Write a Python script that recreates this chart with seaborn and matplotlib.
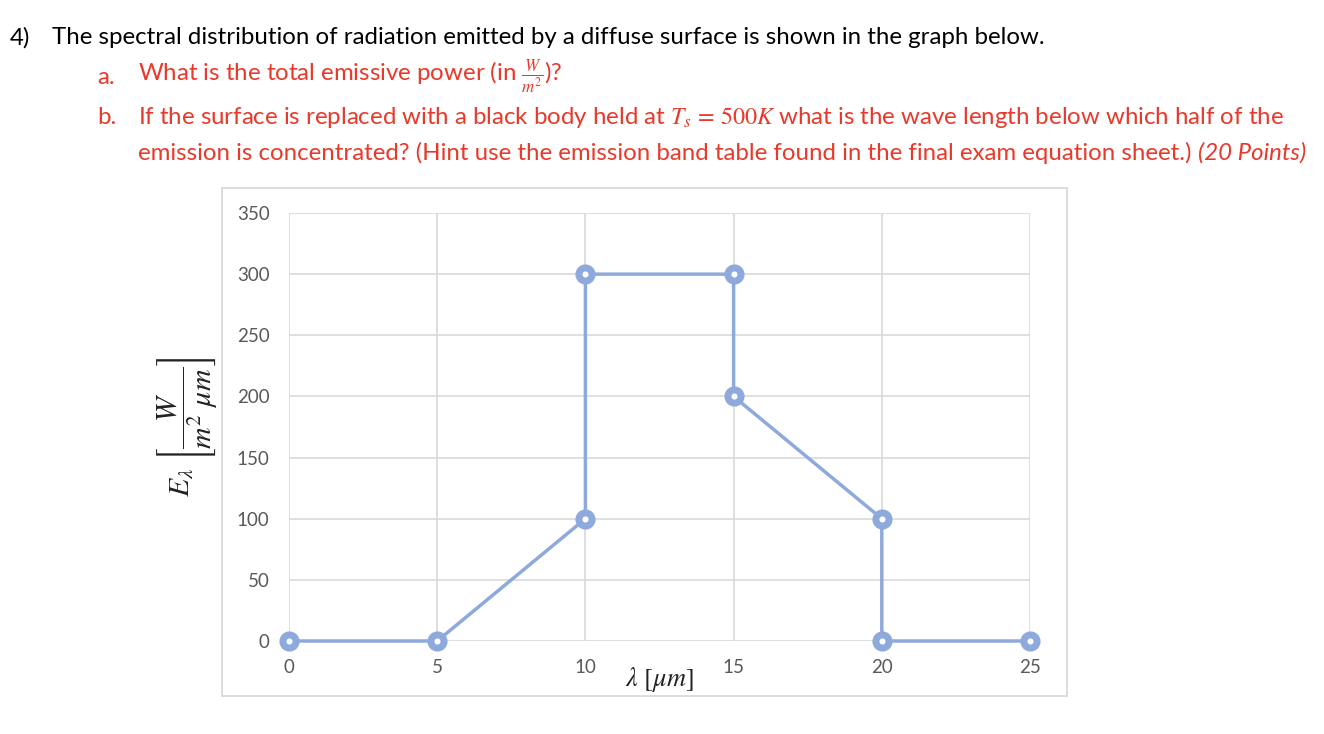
import matplotlib
matplotlib.use("Agg")
import matplotlib.pyplot as plt
import seaborn as sns
from matplotlib.patches import Rectangle

# spectral distribution
wavelength = [0, 5, 10, 10, 15, 15, 20, 20, 25]
emission = [0, 0, 100, 300, 300, 200, 100, 0, 0]
x_ticks = [0, 5, 10, 15, 20, 25]
y_ticks = [0, 50, 100, 150, 200, 250, 300, 350]

sns.set_theme(style="white")
plt.rcParams['font.family'] = ['Lato', 'DejaVu Sans']
plt.rcParams['mathtext.fontset'] = 'stix'

line_color = '#8EA9DB'
red = '#E8392B'
grid_color = '#D9D9D9'
tick_color = '#595959'

fig = plt.figure(figsize=(13.24, 7.34), dpi=100)
W, H = 1324, 734

def fx(px):
    return px / W

def fy(py):
    return 1 - py / H

# chart frame
fig.patches.append(Rectangle((fx(222), fy(696)), fx(1067) - fx(222), fy(188) - fy(696),
                             transform=fig.transFigure, fill=False,
                             edgecolor=grid_color, linewidth=1.3))

ax = fig.add_axes([fx(289), fy(641), fx(1030) - fx(289), fy(213) - fy(641)])
sns.lineplot(x=wavelength, y=emission, sort=False, estimator=None, ax=ax,
             color=line_color, linewidth=2.5, marker='o', markersize=9.5,
             markerfacecolor='white', markeredgecolor=line_color,
             markeredgewidth=5, clip_on=False, zorder=5)
ax.set_xlim(0, 25)
ax.set_ylim(0, 350)
ax.set_xticks(x_ticks)
ax.set_yticks(y_ticks)
ax.grid(True, color=grid_color, linewidth=1.2)
for s in ax.spines.values():
    s.set_visible(False)
ax.tick_params(axis='both', length=0, labelsize=13.5, colors=tick_color)
ax.tick_params(axis='x', pad=13)
ax.tick_params(axis='y', pad=14)
ax.set_xlabel(r'$\lambda\ [\mu m]$', fontsize=19, color='#222222', labelpad=-8)
ax.set_ylabel(r'$E_\lambda\ \left[\dfrac{W}{m^2\ \mu m}\right]$', fontsize=21.5,
              color='#222222', labelpad=12)

# question text
fs = 17.3
fig.text(fx(10), fy(38), '4)', fontsize=fs, va='center', color='black')
fig.text(fx(52), fy(38),
         'The spectral distribution of radiation emitted by a diffuse surface is shown in the graph below.',
         fontsize=fs, va='center', color='black')
fig.text(fx(97), fy(77), 'a.', fontsize=fs, va='center', color=red)
fig.text(fx(138), fy(77), r'What is the total emissive power (in $\frac{W}{m^2}$)?',
         fontsize=fs * 1.0, va='center', color=red,
         math_fontfamily='stix')
fig.text(fx(97), fy(118), 'b.', fontsize=fs, va='center', color=red)
fig.text(fx(138), fy(118),
         r'If the surface is replaced with a black body held at $T_s\, =\, 500K$ what is the wave length below which half of the',
         fontsize=fs, va='center', color=red)
t1 = fig.text(fx(138), fy(153),
              'emission is concentrated? (Hint use the emission band table found in the final exam equation sheet.) ',
              fontsize=fs, va='center', color=red)
fig.canvas.draw()
bb = t1.get_window_extent()
fig.text(bb.x1 / W, fy(153), '(20 Points)', fontsize=fs, va='center',
         color=red, style='italic')

fig.savefig('out.png', dpi=100)
